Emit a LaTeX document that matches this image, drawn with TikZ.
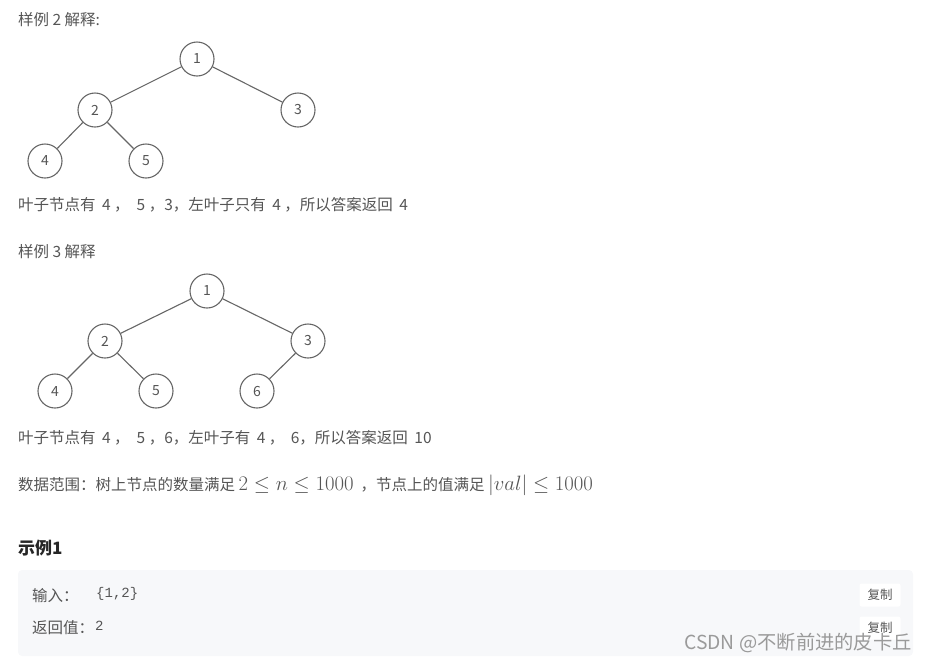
\documentclass[tikz,border=0pt]{standalone}
\usepackage{amsmath,amssymb}
\usepackage{fontspec}
\setmainfont{Noto Sans CJK SC}
\setmonofont{Liberation Mono}
\usepackage{xcolor}
\usetikzlibrary{positioning, calc}

\definecolor{txtgray}{HTML}{555555}
\definecolor{edgegray}{HTML}{666666}
\definecolor{boxbg}{HTML}{F7F8FA}
\definecolor{markgray}{HTML}{9A9A9A}

\newcommand{\bigmath}[1]{{\fontsize{21}{22}\selectfont$#1$}}
\newcommand{\xgap}{\hspace{3pt}}

\tikzset{
    tnode/.style={circle, draw=edgegray, line width=1.1pt, fill=white, minimum size=34pt, inner sep=0pt, font=\fontsize{14}{14}\selectfont, text=txtgray},
    tedge/.style={draw=edgegray, line width=1.1pt},
    para/.style={anchor=west, inner sep=0pt, text=txtgray, font=\fontsize{15.5}{17}\selectfont},
    copybtn/.style={fill=white, rounded corners=2pt, minimum width=41pt, minimum height=23pt, inner sep=0pt, text=txtgray, font=\fontsize{12.5}{13}\selectfont}
}

\begin{document}
\begin{tikzpicture}[x=1pt, y=-1pt]
    \useasboundingbox (0,0) rectangle (928,662);

    % =========================================================
    % SAMPLE 2 TREE
    % =========================================================
    \node[para] (capA) at (18,20) {样例 2 解释:};
    \node[tnode] (a1) at (197,59) {1};
    \node[tnode] (a2) at (95,110) {2};
    \node[tnode] (a3) at (298,110) {3};
    \node[tnode] (a4) at (45,161) {4};
    \node[tnode] (a5) at (146,161) {5};
    \draw[tedge] (a1) -- (a2);
    \draw[tedge] (a1) -- (a3);
    \draw[tedge] (a2) -- (a4);
    \draw[tedge] (a2) -- (a5);
    \node[para] (resA) at (18,205) {叶子节点有\xgap{} 4 ，\ \ 5 ，3，左叶子只有\xgap{} 4 ，所以答案返回\xgap{} 4};

    % =========================================================
    % SAMPLE 3 TREE
    % =========================================================
    \node[para] (capB) at (18,252) {样例 3 解释};
    \node[tnode] (b1) at (207,291) {1};
    \node[tnode] (b2) at (105,341) {2};
    \node[tnode] (b3) at (308,341) {3};
    \node[tnode] (b4) at (55,391) {4};
    \node[tnode] (b5) at (156,391) {5};
    \node[tnode] (b6) at (257,391) {6};
    \draw[tedge] (b1) -- (b2);
    \draw[tedge] (b1) -- (b3);
    \draw[tedge] (b2) -- (b4);
    \draw[tedge] (b2) -- (b5);
    \draw[tedge] (b3) -- (b6);
    \node[para] (resB) at (18,438) {叶子节点有\xgap{} 4 ，\ \ 5 ，6，左叶子有\xgap{} 4 ，\ \xgap{}6，所以答案返回\xgap{} 10};

    % =========================================================
    % DATA RANGE
    % =========================================================
    \node[para] (range) at (18,485) {数据范围：树上节点的数量满足 \bigmath{2 \leq n \leq 1000} \ ，节点上的值满足 \bigmath{|val| \leq 1000}};

    % =========================================================
    % EXAMPLE 1 BOX
    % =========================================================
    \node[para, text=black!85, font=\fontsize{17}{18}\selectfont\bfseries] (exTitle) at (18,548) {示例1};
    \fill[boxbg, rounded corners=4pt] (18,570) rectangle (913,656);
    \node[para] (inLbl) at (32,596) {输入：};
    \node[para, font=\fontsize{14}{14}\ttfamily] (inVal) at (96,594) {\{1,2\}};
    \node[para] (outLbl) at (32,628) {返回值：};
    \node[para, font=\fontsize{14}{14}\ttfamily] (outVal) at (95,626) {2};
    \node[copybtn] (copyA) at (880,595) {复制};
    \node[copybtn] (copyB) at (880,628) {复制};

    % watermark
    \node[anchor=east, inner sep=0pt, text=markgray, font=\fontsize{19.3}{21}\selectfont] (mark) at (912,643) {CSDN @不断前进的皮卡丘};
\end{tikzpicture}
\end{document}
